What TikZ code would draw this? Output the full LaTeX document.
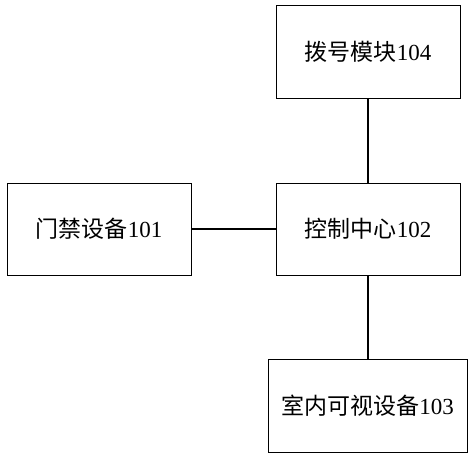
\documentclass[tikz,border=0pt]{standalone}
\usepackage{fontspec}
\setmainfont{Liberation Serif}
\newfontfamily\cjk{Noto Sans CJK SC}
\begin{document}
\begin{tikzpicture}[x=1pt,y=-1pt,
  box/.style={draw, line width=0.9pt, inner sep=0pt, font=\fontsize{23}{27}\selectfont},
  link/.style={line width=1.4pt}]
\useasboundingbox (0,0) rectangle (474,459);
\node[box, minimum width=184pt, minimum height=93pt] (dial) at (368,51.5) {{\cjk 拨号模块}104};
\node[box, minimum width=184pt, minimum height=92pt] (ctrl) at (368,229) {{\cjk 控制中心}102};
\node[box, minimum width=184pt, minimum height=92pt] (door) at (99,229) {{\cjk 门禁设备}101};
\node[box, minimum width=199pt, minimum height=93pt] (indoor) at (367.5,405.5) {{\cjk 室内可视设备}103};
\draw[link] (dial.south) -- (ctrl.north);
\draw[link] (door.east) -- (ctrl.west);
\draw[link] (ctrl.south) -- (ctrl.south |- indoor.north);
\end{tikzpicture}
\end{document}
